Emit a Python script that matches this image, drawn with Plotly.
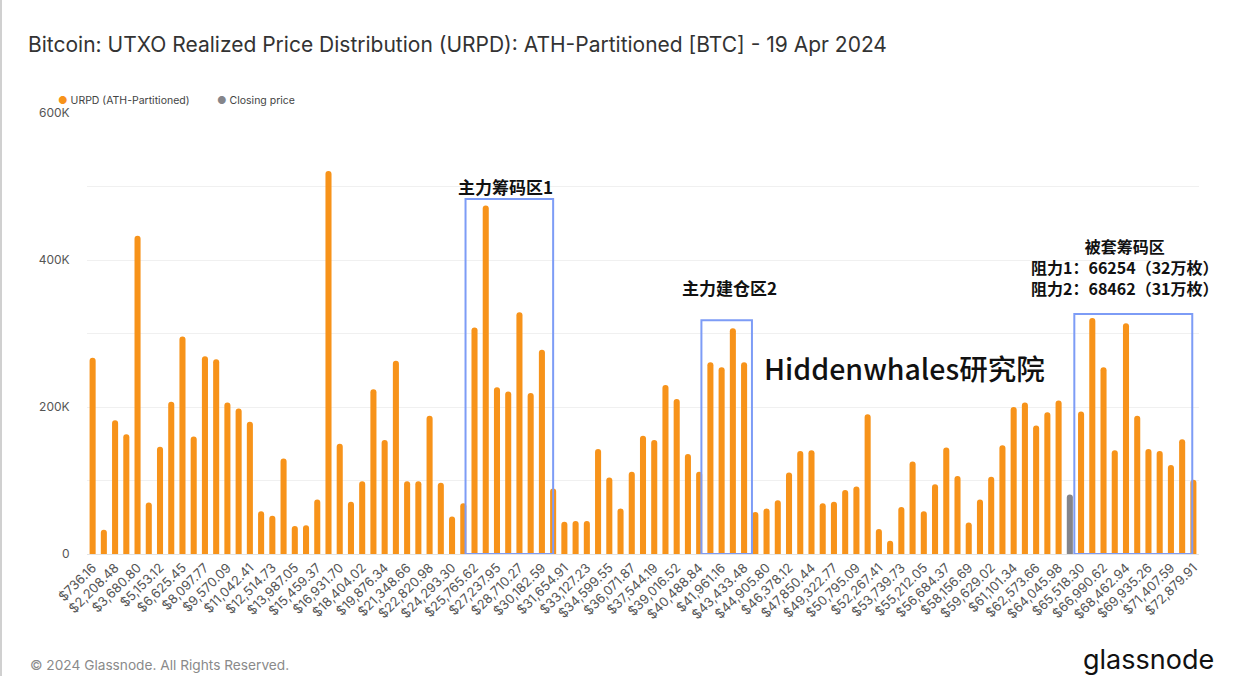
import plotly.graph_objects as go

# ---------------- data ----------------
bucket = list(range(1, 100))  # ATH-partitioned price buckets (width ≈ $736.16)

tick_labels = [
    "$736.16", "$2,208.48", "$3,680.80", "$5,153.12", "$6,625.45", "$8,097.77",
    "$9,570.09", "$11,042.41", "$12,514.73", "$13,987.05", "$15,459.37", "$16,931.70",
    "$18,404.02", "$19,876.34", "$21,348.66", "$22,820.98", "$24,293.30", "$25,765.62",
    "$27,237.95", "$28,710.27", "$30,182.59", "$31,654.91", "$33,127.23", "$34,599.55",
    "$36,071.87", "$37,544.19", "$39,016.52", "$40,488.84", "$41,961.16", "$43,433.48",
    "$44,905.80", "$46,378.12", "$47,850.44", "$49,322.77", "$50,795.09", "$52,267.41",
    "$53,739.73", "$55,212.05", "$56,684.37", "$58,156.69", "$59,629.02", "$61,101.34",
    "$62,573.66", "$64,045.98", "$65,518.30", "$66,990.62", "$68,462.94", "$69,935.26",
    "$71,407.59", "$72,879.91",
]
tick_buckets = list(range(1, 100, 2))

urpd_k = [
    267, 33, 182, 163, 433, 70, 146, 207, 296, 160,
    269, 265, 206, 198, 180, 58, 52, 130, 38, 39,
    74, 521, 150, 71, 99, 224, 155, 263, 99, 99,
    188, 97, 51, 69, 308, 474, 227, 221, 329, 219,
    278, 89, 44, 45, 45, 143, 104, 62, 112, 161,
    155, 230, 211, 136, 112, 261, 254, 307, 261, 57,
    62, 73, 111, 140, 141, 69, 71, 87, 92, 190,
    34, 18, 64, 126, 58, 95, 145, 106, 43, 74,
    105, 148, 200, 206, 175, 193, 209, None, 194, 321,
    254, 141, 314, 188, 143, 140, 121, 156, 101,
]
urpd = [None if v is None else v * 1000 for v in urpd_k]

closing_bucket = [88]
closing_value = [81000]

y_tickvals = [0, 100000, 200000, 300000, 400000, 500000, 600000]
y_ticktext = ["0", "", "200K", "", "400K", "", "600K"]

# ---------------- figure ----------------
ORANGE = "#F7931A"
GREY = "#85858A"
BLUE = "#7D9CF6"

W, H = 1238, 676
L, R, T, B = 87, 39, 113, 122

def px2paper_x(px):
    return (px - L) / (W - L - R)

def px2paper_y(py):
    return (H - B - py) / (H - T - B)

fig = go.Figure()
fig.add_trace(go.Bar(
    x=bucket, y=urpd, name="URPD (ATH-Partitioned)",
    marker=dict(color=ORANGE, cornerradius=3, line=dict(width=0)),
    width=0.54, showlegend=False,
))
fig.add_trace(go.Bar(
    x=closing_bucket, y=closing_value, name="Closing price",
    marker=dict(color=GREY, cornerradius=3, line=dict(width=0)),
    width=0.54, showlegend=False,
))

shapes = [
    dict(type="rect", xref="x", yref="y", x0=34.2, x1=42.0, y0=0, y1=483000,
         line=dict(color=BLUE, width=2), fillcolor="rgba(0,0,0,0)"),
    dict(type="rect", xref="x", yref="y", x0=55.2, x1=59.7, y0=0, y1=318000,
         line=dict(color=BLUE, width=2), fillcolor="rgba(0,0,0,0)"),
    dict(type="rect", xref="x", yref="y", x0=88.4, x1=98.9, y0=0, y1=326500,
         line=dict(color=BLUE, width=2), fillcolor="rgba(0,0,0,0)"),
    # left page border
    dict(type="line", xref="paper", yref="paper", x0=px2paper_x(1), x1=px2paper_x(1),
         y0=px2paper_y(0), y1=px2paper_y(H), line=dict(color="#d0d0d0", width=2)),
]

CJK = "Noto Sans CJK SC"
ann = []
ann.append(dict(x=px2paper_x(505), y=px2paper_y(186), xref="paper", yref="paper",
                text="<b>主力筹码区1</b>",
                showarrow=False, font=dict(family=CJK, size=17, color="#111"),
                xanchor="center", yanchor="middle"))
ann.append(dict(x=px2paper_x(729), y=px2paper_y(287), xref="paper", yref="paper",
                text="<b>主力建仓区2</b>",
                showarrow=False, font=dict(family=CJK, size=17, color="#111"),
                xanchor="center", yanchor="middle"))
ann.append(dict(x=px2paper_x(762), y=px2paper_y(367), xref="paper", yref="paper",
                text="Hiddenwhales研究院", showarrow=False,
                font=dict(family=CJK, size=28.5, color="#111", weight=500),
                xanchor="left", yanchor="middle"))
ann.append(dict(x=px2paper_x(1125), y=px2paper_y(267), xref="paper", yref="paper",
                text="<b>被套筹码区</b><br><b>阻力1：66254（32万枚）</b><br><b>阻力2：68462（31万枚）</b>",
                showarrow=False, align="center",
                font=dict(family=CJK, size=16, color="#111"), xanchor="center", yanchor="middle"))

# legend (drawn as text)
ann.append(dict(x=px2paper_x(56), y=px2paper_y(100), xref="paper", yref="paper",
                text=f"<span style='color:{ORANGE}'>●</span> URPD (ATH-Partitioned)",
                showarrow=False, font=dict(family="Inter", size=10.5, color="#444"),
                xanchor="left", yanchor="middle"))
ann.append(dict(x=px2paper_x(215), y=px2paper_y(100), xref="paper", yref="paper",
                text=f"<span style='color:{GREY}'>●</span> Closing price",
                showarrow=False, font=dict(family="Inter", size=10.5, color="#444"),
                xanchor="left", yanchor="middle"))
# footer
ann.append(dict(x=px2paper_x(28), y=px2paper_y(665), xref="paper", yref="paper",
                text="© 2024 Glassnode. All Rights Reserved.", showarrow=False,
                font=dict(family="Inter", size=13.7, color="#8a8a8a"),
                xanchor="left", yanchor="middle"))
ann.append(dict(x=px2paper_x(1216), y=px2paper_y(659), xref="paper", yref="paper",
                text="glassnode", showarrow=False,
                font=dict(family="Inter", size=27, color="#111"),
                xanchor="right", yanchor="middle"))

fig.update_layout(
    width=W, height=H,
    margin=dict(l=L, r=R, t=T, b=B),
    paper_bgcolor="white", plot_bgcolor="white",
    title=dict(text="Bitcoin: UTXO Realized Price Distribution (URPD): ATH-Partitioned [BTC] - 19 Apr 2024",
               x=28 / W, xanchor="left", y=1 - 45 / H, yanchor="middle",
               font=dict(family="Inter", size=21, color="#333")),
    barmode="overlay",
    showlegend=False,
    shapes=shapes,
    annotations=ann,
    font=dict(family="Inter"),
)
fig.update_xaxes(
    range=[0.5, 99.5], tickmode="array", tickvals=tick_buckets, ticktext=tick_labels,
    tickangle=-45, tickfont=dict(family="Inter", size=13, color="#555"),
    showgrid=False, showline=True, linecolor="#e3e3e3", linewidth=1,
    ticks="", zeroline=False, fixedrange=True,
)
fig.update_yaxes(
    range=[0, 600000], tickmode="array", tickvals=y_tickvals, ticktext=y_ticktext,
    tickfont=dict(family="Inter", size=12, color="#555"),
    showgrid=True, gridcolor="#f0f0f0", gridwidth=1, zeroline=False,
    ticks="outside", ticklen=14, tickcolor="rgba(0,0,0,0)", showline=False,
)

fig.write_html("out.html")
